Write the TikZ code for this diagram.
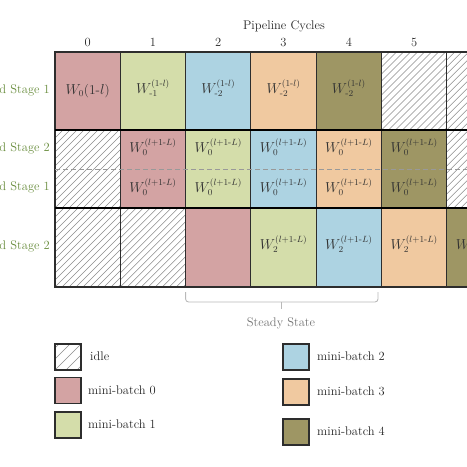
\documentclass[tikz,border=0pt]{standalone}
\usepackage{amsmath}
\usetikzlibrary{calc}
\definecolor{czero}{RGB}{211,163,163}
\definecolor{cone}{RGB}{212,221,170}
\definecolor{ctwo}{RGB}{173,211,226}
\definecolor{cthree}{RGB}{240,201,160}
\definecolor{cfour}{RGB}{158,150,100}
\definecolor{lblgreen}{RGB}{104,140,60}
\definecolor{cellline}{RGB}{45,45,45}
\definecolor{txt}{RGB}{50,50,50}
\definecolor{hatchc}{RGB}{140,140,140}
\definecolor{steady}{RGB}{115,115,115}
\definecolor{bracec}{RGB}{185,185,185}
\newcommand{\mh}{\text{-}}
\begin{document}
\begin{tikzpicture}[x=1pt,y=-1pt,
  cellbox/.style={draw=cellline, line width=1.1pt, minimum width=65.3pt, minimum height=78pt, inner sep=0pt, outer sep=0pt},
  celltxt/.style={text=txt, font=\fontsize{13.5}{15}\selectfont, inner sep=0pt},
  mbzero/.style={fill=czero}, mbone/.style={fill=cone}, mbtwo/.style={fill=ctwo},
  mbthree/.style={fill=cthree}, mbfour/.style={fill=cfour},
  idlebox/.style={fill=white, path picture={
     \foreach \i in {-24,...,12}
       \draw[hatchc, line width=0.45pt] ($(path picture bounding box.south west)+(\i*7pt,0pt)$) -- ++(130pt,130pt);}},
  idlesmall/.style={fill=white, path picture={
     \foreach \i in {-4,...,3}
       \draw[hatchc, line width=0.45pt] ($(path picture bounding box.south west)+(\i*11pt,0pt)$) -- ++(40pt,40pt);}},
  lbl/.style={text=lblgreen, font=\fontsize{12.5}{14}\selectfont, anchor=east, inner sep=0pt},
  toptxt/.style={text=black!85, font=\fontsize{12.5}{14}\selectfont, inner sep=0pt},
  legbox/.style={draw=cellline, line width=1.1pt, minimum width=26pt, minimum height=26pt, inner sep=0pt},
  legtxt/.style={text=black!85, font=\fontsize{12.5}{14}\selectfont, anchor=west, inner sep=0pt},
  sepline/.style={black, line width=1.6pt},
  dashsep/.style={black!40, line width=0.9pt, dash pattern=on 5pt off 3pt},
  bracket/.style={bracec, line width=0.9pt, rounded corners=3pt}
]
\useasboundingbox (0,0) rectangle (467,467);
\clip (0,0) rectangle (467,467);

% header
\node[toptxt] (title) at (284,26) {Pipeline Cycles};
\foreach \c in {0,...,5} {
  \node[toptxt] (num\c) at ({55+65.3*(\c+0.5)},42) {\c};
}

% row labels
\node[lbl] (lab1) at (50,90) {rd Stage 1};
\node[lbl] (lab2) at (50,148) {rd Stage 2};
\node[lbl] (lab3) at (50,187) {rd Stage 1};
\node[lbl] (lab4) at (50,246) {d Stage 2};

% row 1 (y 52-130)
\node[cellbox, mbzero] (r1c0) at (87.65,91) {};
\node[cellbox, mbone] (r1c1) at (152.95,91) {};
\node[cellbox, mbtwo] (r1c2) at (218.25,91) {};
\node[cellbox, mbthree] (r1c3) at (283.55,91) {};
\node[cellbox, mbfour] (r1c4) at (348.85,91) {};
\node[cellbox, idlebox] (r1c5) at (414.15,91) {};
\node[cellbox, idlebox] (r1c6) at (479.45,91) {};
\node[celltxt] (t1c0) at (r1c0) {$W_0$(1-$l$)};
\node[celltxt] (t1c1) at (152.95,88) {$W_{\mh1}^{(1\mh l)}$};
\node[celltxt] (t1c2) at (218.25,88) {$W_{\mh2}^{(1\mh l)}$};
\node[celltxt] (t1c3) at (283.55,88) {$W_{\mh2}^{(1\mh l)}$};
\node[celltxt] (t1c4) at (348.85,88) {$W_{\mh2}^{(1\mh l)}$};

% rows 2-3 (y 130-208)
\node[cellbox, idlebox] (r2c0) at (87.65,169) {};
\node[cellbox, mbzero] (r2c1) at (152.95,169) {};
\node[cellbox, mbone] (r2c2) at (218.25,169) {};
\node[cellbox, mbtwo] (r2c3) at (283.55,169) {};
\node[cellbox, mbthree] (r2c4) at (348.85,169) {};
\node[cellbox, mbfour] (r2c5) at (414.15,169) {};
\node[cellbox, idlebox] (r2c6) at (479.45,169) {};
\foreach \c/\x in {1/152.95,2/218.25,3/283.55,4/348.85,5/414.15} {
  \node[celltxt] (tu\c) at (\x,147) {$W_0^{(l+1\mh L)}$};
  \node[celltxt] (tl\c) at (\x,187) {$W_0^{(l+1\mh L)}$};
}

% row 4 (y 208-287)
\node[cellbox, idlebox, minimum height=79pt] (r4c0) at (87.65,247.5) {};
\node[cellbox, idlebox, minimum height=79pt] (r4c1) at (152.95,247.5) {};
\node[cellbox, mbzero, minimum height=79pt] (r4c2) at (218.25,247.5) {};
\node[cellbox, mbone, minimum height=79pt] (r4c3) at (283.55,247.5) {};
\node[cellbox, mbtwo, minimum height=79pt] (r4c4) at (348.85,247.5) {};
\node[cellbox, mbthree, minimum height=79pt] (r4c5) at (414.15,247.5) {};
\node[cellbox, mbfour, minimum height=79pt] (r4c6) at (479.45,247.5) {};
\node[celltxt] (t4c3) at (283.55,244) {$W_2^{(l+1\mh L)}$};
\node[celltxt] (t4c4) at (348.85,244) {$W_2^{(l+1\mh L)}$};
\node[celltxt] (t4c5) at (414.15,244) {$W_2^{(l+1\mh L)}$};
\node[celltxt] (t4c6) at (479.45,244) {$W_2^{(l+1\mh L)}$};

% separators
\coordinate (sa) at (55,130); \coordinate (sb) at (520,130);
\coordinate (sc) at (55,208); \coordinate (sd) at (520,208);
\coordinate (se) at (55,169); \coordinate (sf) at (520,169);
\draw[sepline] (sa) -- (sb);
\draw[sepline] (sc) -- (sd);
\draw[dashsep] (se) -- (sf);

% steady state bracket
\coordinate (bl) at (185.6,292);
\coordinate (bm) at (281,302);
\coordinate (br) at (378,292);
\coordinate (bt) at (281,309);
\draw[bracket] (bl) |- (bm) -| (br);
\draw[bracec, line width=0.9pt] (bm) -- (bt);
\node[text=steady, font=\fontsize{12.5}{14}\selectfont, inner sep=0pt] (steadytxt) at (281,323) {Steady State};

% legend
\node[legbox, idlesmall] (lg0) at (68,357) {};
\node[legbox, fill=czero] (lg1) at (68,390.5) {};
\node[legbox, fill=cone] (lg2) at (68,425) {};
\node[legbox, fill=ctwo] (lg3) at (296,357) {};
\node[legbox, fill=cthree] (lg4) at (296,392) {};
\node[legbox, fill=cfour] (lg5) at (296,432) {};
\node[legtxt] (lt0) at (90,356) {idle};
\node[legtxt] (lt1) at (88,390) {mini-batch 0};
\node[legtxt] (lt2) at (88,424) {mini-batch 1};
\node[legtxt] (lt3) at (317,356) {mini-batch 2};
\node[legtxt] (lt4) at (317,391) {mini-batch 3};
\node[legtxt] (lt5) at (317,431) {mini-batch 4};
\end{tikzpicture}
\end{document}
